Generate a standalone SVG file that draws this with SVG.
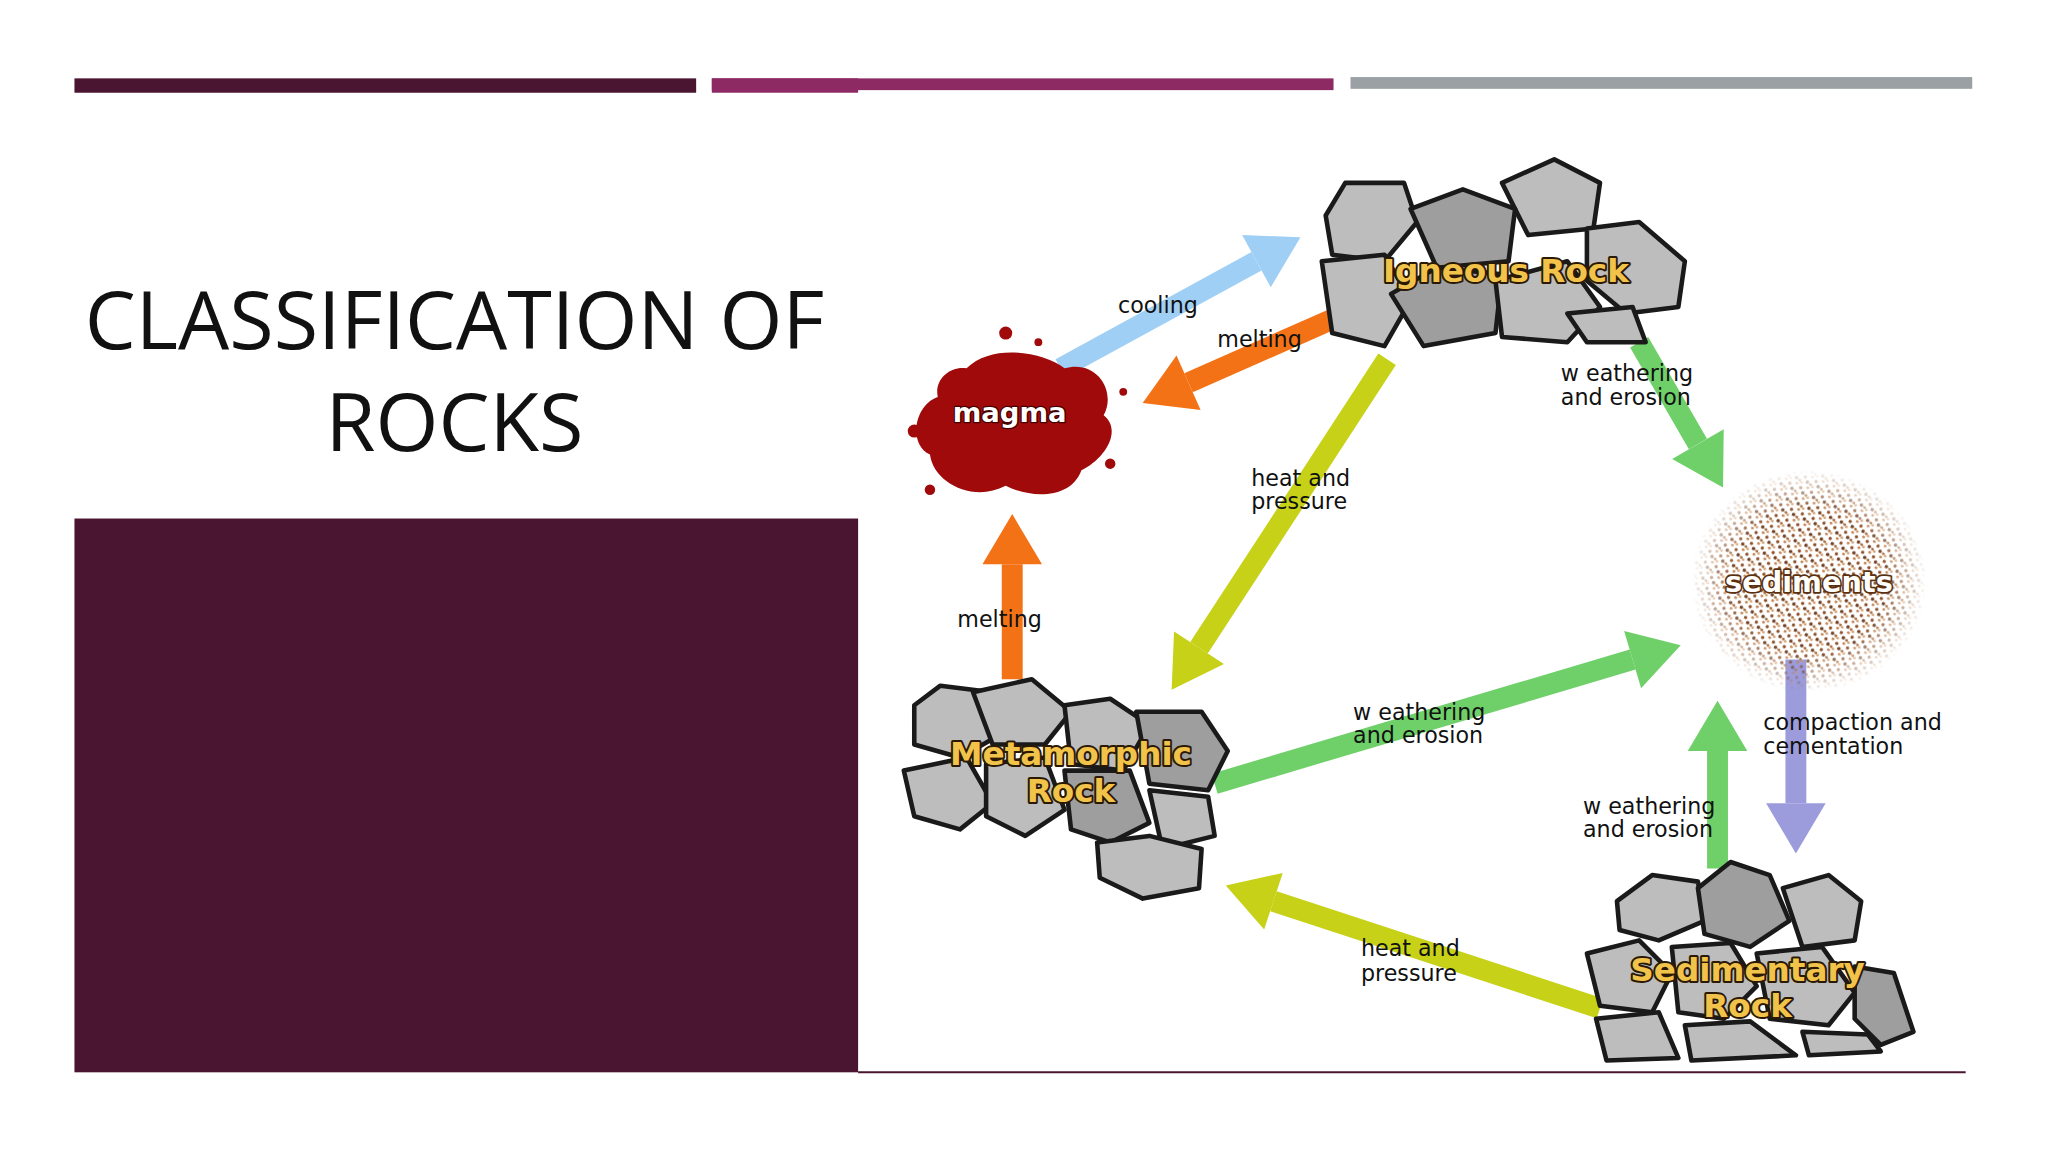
<svg xmlns="http://www.w3.org/2000/svg" width="2048" height="1152" viewBox="0 0 2048 1152">
<style>
.lbl{font-family:"DejaVu Sans",sans-serif;font-size:17px;fill:#111}
.rk{font-family:"DejaVu Sans",sans-serif;font-weight:bold;font-size:25px;fill:#f2c34a;stroke:#2a1a05;stroke-width:3;paint-order:stroke fill;stroke-linejoin:round;text-anchor:middle}
.st{fill:#bdbdbd;stroke:#1a1a1a;stroke-width:3.5;stroke-linejoin:round}
.st2{fill:#9e9e9e;stroke:#1a1a1a;stroke-width:3.5;stroke-linejoin:round}
.ar{fill:none;stroke-width:16}
</style>
<defs>
<marker id="mb" viewBox="0 -2 3 4" refX="0" refY="0" orient="auto" overflow="visible"><path d="M0,-1.9 L3.2,0 L0,1.9z" fill="#9fcff5"/></marker>
<marker id="mo" viewBox="0 -2 3 4" refX="0" refY="0" orient="auto" overflow="visible"><path d="M0,-1.9 L3.2,0 L0,1.9z" fill="#f47216"/></marker>
<marker id="my" viewBox="0 -2 3 4" refX="0" refY="0" orient="auto" overflow="visible"><path d="M0,-1.9 L3.2,0 L0,1.9z" fill="#c6d117"/></marker>
<marker id="mg" viewBox="0 -2 3 4" refX="0" refY="0" orient="auto" overflow="visible"><path d="M0,-1.9 L3.2,0 L0,1.9z" fill="#6fd06a"/></marker>
<marker id="mp" viewBox="0 -2 3 4" refX="0" refY="0" orient="auto" overflow="visible"><path d="M0,-1.9 L3.2,0 L0,1.9z" fill="#9c9cdc"/></marker>
<pattern id="dots" width="9" height="9" patternUnits="userSpaceOnUse" patternTransform="rotate(23)">
<circle cx="2" cy="3" r="1.3" fill="#8a4a22"/><circle cx="7" cy="1" r="1.1" fill="#c08050"/><circle cx="5" cy="6" r="1.4" fill="#6b3a1c"/><circle cx="8" cy="7" r="1.1" fill="#a56a3a"/><circle cx="1" cy="8" r="1" fill="#d09a6a"/>
</pattern>
<radialGradient id="fade"><stop offset="0" stop-color="#fff" stop-opacity="1"/><stop offset="0.65" stop-color="#fff" stop-opacity="0.95"/><stop offset="1" stop-color="#fff" stop-opacity="0"/></radialGradient>
<mask id="sm"><ellipse cx="1385" cy="445" rx="90" ry="85" fill="url(#fade)"/></mask>
</defs>
<g transform="scale(1.3061)">
<rect width="1568" height="882" fill="#fff"/>
<g id="header">
<rect x="57" y="60" width="476" height="11" fill="#4a1530"/>
<rect x="545" y="60" width="476" height="9" fill="#8e2a63"/>
<rect x="545" y="60" width="112" height="11" fill="#8e2a63"/>
<rect x="1034" y="59" width="476" height="9" fill="#9aa0a4"/>
</g>
<g id="title" font-family="'Open Sans','Noto Sans',sans-serif" font-size="62" fill="#111" text-anchor="middle">
<text x="348" y="267">CLASSIFICATION OF</text>
<text x="348" y="345">ROCKS</text>
</g>
<rect id="panel" x="57" y="397" width="600" height="424" fill="#4a1530"/>
<line x1="657" y1="821" x2="1505" y2="821" stroke="#4a1530" stroke-width="1.5"/>
<g id="connectors">
<line class="ar" stroke="#9fcff5" x1="812" y1="282" x2="962" y2="200" marker-end="url(#mb)"/>
<line class="ar" stroke="#f47216" x1="1030" y1="240" x2="910" y2="293" marker-end="url(#mo)"/>
<line class="ar" stroke="#c6d117" x1="1062" y1="275" x2="918" y2="496" marker-end="url(#my)"/>
<line class="ar" stroke="#6fd06a" x1="1255" y1="262" x2="1300" y2="340" marker-end="url(#mg)"/>
<line class="ar" stroke="#6fd06a" x1="930" y1="600" x2="1250" y2="505" marker-end="url(#mg)"/>
<line class="ar" stroke="#9c9cdc" x1="1375" y1="505" x2="1375" y2="615" marker-end="url(#mp)"/>
<line class="ar" stroke="#6fd06a" x1="1315" y1="665" x2="1315" y2="575" marker-end="url(#mg)"/>
<line class="ar" stroke="#c6d117" x1="1225" y1="772" x2="975" y2="690" marker-end="url(#my)"/>
<line class="ar" stroke="#f47216" x1="775" y1="520" x2="775" y2="432" marker-end="url(#mo)"/>
</g>
<g id="labels">
<text class="lbl" x="856" y="240">cooling</text>
<text class="lbl" x="932" y="266">melting</text>
<text class="lbl" x="1195" y="292">w eathering</text><text class="lbl" x="1195" y="310">and erosion</text>
<text class="lbl" x="958" y="372">heat and</text><text class="lbl" x="958" y="390">pressure</text>
<text class="lbl" x="733" y="480">melting</text>
<text class="lbl" x="1036" y="551">w eathering</text><text class="lbl" x="1036" y="569">and erosion</text>
<text class="lbl" x="1350" y="559">compaction and</text><text class="lbl" x="1350" y="577">cementation</text>
<text class="lbl" x="1212" y="623">w eathering</text><text class="lbl" x="1212" y="641">and erosion</text>
<text class="lbl" x="1042" y="732">heat and</text><text class="lbl" x="1042" y="751">pressure</text>
</g>
<g id="igneous">
<path class="st" d="M1015,165 L1030,140 L1075,140 L1085,170 L1060,200 L1020,195z"/>
<path class="st" d="M1150,140 L1190,122 L1225,140 L1220,175 L1170,180z"/>
<path class="st2" d="M1080,160 L1120,145 L1160,160 L1155,200 L1100,205z"/>
<path class="st" d="M1215,175 L1255,170 L1290,200 L1285,235 L1245,240 L1215,215z"/>
<path class="st" d="M1012,200 L1060,195 L1080,230 L1060,265 L1020,255z"/>
<path class="st2" d="M1065,225 L1100,205 L1150,210 L1145,255 L1090,265z"/>
<path class="st" d="M1145,215 L1200,200 L1225,235 L1200,262 L1150,258z"/>
<path class="st" d="M1200,240 L1250,235 L1260,262 L1215,262z"/>
<text class="rk" x="1153" y="216">Igneous Rock</text>
</g>
<g id="magma">
<path fill="#a00a0a" d="M740,282 C760,262 800,270 815,282 C840,275 855,300 845,318 C860,330 845,352 828,360 C820,382 790,382 770,372 C745,385 715,370 712,348 C695,340 700,310 718,304 C715,290 728,280 740,282z"/>
<circle cx="700" cy="330" r="5" fill="#a00a0a"/><circle cx="770" cy="255" r="5" fill="#a00a0a"/><circle cx="850" cy="355" r="4" fill="#a00a0a"/><circle cx="712" cy="375" r="4" fill="#a00a0a"/><circle cx="795" cy="262" r="3" fill="#a00a0a"/><circle cx="860" cy="300" r="3" fill="#a00a0a"/>
<text class="rk" x="773" y="323" style="font-size:21px;fill:#fff;stroke:#400;stroke-width:2">magma</text>
</g>
<g id="sediments">
<rect x="1290" y="355" width="190" height="180" fill="url(#dots)" mask="url(#sm)"/>
<text class="rk" x="1385" y="453" style="font-size:22px;fill:#fff;stroke:#5a3010;stroke-width:2.5">sediments</text>
</g>
<g id="metamorphic">
<path class="st" d="M700,540 L720,525 L760,530 L770,560 L735,580 L700,570z"/>
<path class="st" d="M745,530 L790,520 L820,545 L800,570 L760,570z"/>
<path class="st" d="M815,540 L850,535 L880,555 L860,590 L820,585z"/>
<path class="st2" d="M870,545 L920,545 L940,575 L925,605 L880,600z"/>
<path class="st" d="M692,590 L740,580 L760,615 L735,635 L700,625z"/>
<path class="st" d="M755,585 L800,580 L815,620 L785,640 L755,625z"/>
<path class="st2" d="M815,590 L865,590 L880,630 L850,645 L820,635z"/>
<path class="st" d="M880,605 L925,610 L930,640 L890,650z"/>
<path class="st" d="M840,645 L880,640 L920,650 L918,680 L875,688 L842,672z"/>
<text class="rk" x="820" y="586">Metamorphic</text>
<text class="rk" x="820" y="614">Rock</text>
</g>
<g id="sedimentary">
<path class="st" d="M1238,690 L1265,670 L1300,675 L1305,705 L1270,720 L1240,712z"/>
<path class="st2" d="M1300,680 L1325,660 L1355,670 L1370,705 L1340,725 L1305,715z"/>
<path class="st" d="M1365,680 L1400,670 L1425,690 L1420,720 L1380,725z"/>
<path class="st" d="M1215,730 L1255,720 L1280,745 L1265,775 L1225,770z"/>
<path class="st" d="M1280,725 L1325,722 L1345,755 L1320,780 L1285,775z"/>
<path class="st" d="M1345,730 L1395,725 L1420,760 L1400,785 L1355,780z"/>
<path class="st2" d="M1420,740 L1450,745 L1465,790 L1440,800 L1420,780z"/>
<path class="st" d="M1222,780 L1270,775 L1285,810 L1230,812z"/>
<path class="st" d="M1290,785 L1340,782 L1375,808 L1295,812z"/>
<path class="st" d="M1380,790 L1430,792 L1440,805 L1385,808z"/>
<text class="rk" x="1338" y="751">Sedimentary</text>
<text class="rk" x="1338" y="779">Rock</text>
</g>
</g>
</svg>
